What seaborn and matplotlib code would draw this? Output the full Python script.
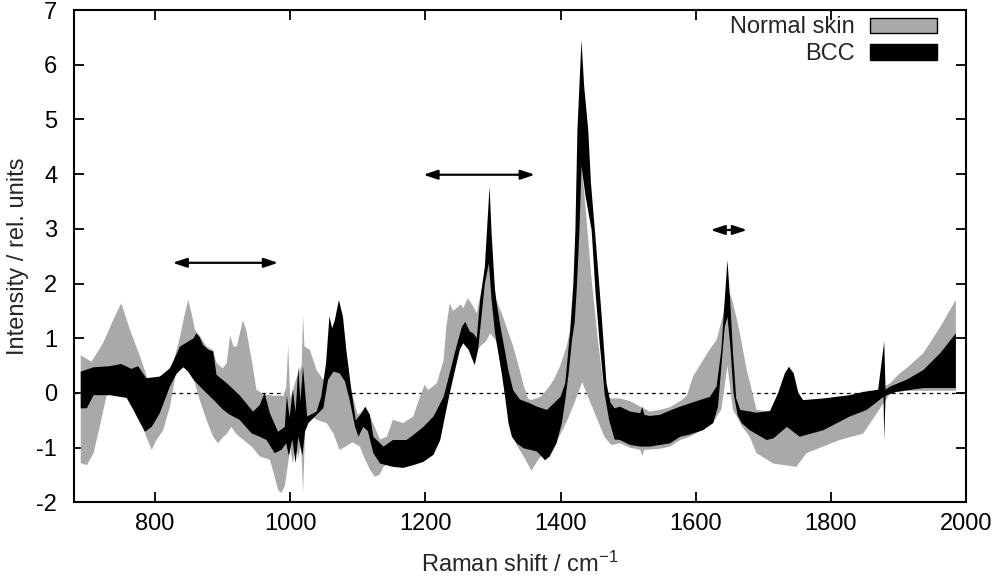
import numpy as np
import matplotlib
matplotlib.use("Agg")
import matplotlib.pyplot as plt
from matplotlib.patches import Patch
import seaborn as sns

# ---------------- data ----------------
# BCC band: upper edge
bcc_hi_x = [690, 709, 733, 750, 765, 775, 787, 807, 822, 837, 849, 857, 861, 866, 871, 879, 886, 891, 906, 925,
            935, 945, 955, 962, 970, 982, 992, 995, 999, 1004, 1008, 1012, 1015, 1019, 1025, 1039, 1046, 1053, 1058, 1062,
            1066, 1072, 1078, 1083, 1090, 1097, 1105, 1111, 1118, 1123, 1138, 1152, 1172, 1182, 1197, 1212, 1227, 1236, 1246, 1254,
            1259, 1266, 1271, 1276, 1281, 1288, 1295, 1298, 1303, 1306, 1312, 1318, 1323, 1330, 1340, 1355, 1365, 1380, 1390, 1400,
            1407, 1414, 1419, 1422, 1425, 1431, 1435, 1441, 1445, 1453, 1461, 1468, 1474, 1480, 1488, 1503, 1518, 1521, 1524, 1532,
            1547, 1562, 1577, 1591, 1606, 1621, 1631, 1638, 1643, 1647, 1651, 1655, 1660, 1666, 1690, 1710, 1722, 1732, 1738, 1745,
            1752, 1759, 1789, 1828, 1848, 1870, 1879, 1881, 1888, 1912, 1937, 1962, 1985]
bcc_hi = [0.39, 0.47, 0.49, 0.53, 0.44, 0.49, 0.27, 0.30, 0.45, 0.85, 0.94, 1.00, 1.09, 1.02, 0.88, 0.79, 0.76, 0.33, 0.18, -0.04,
          -0.19, -0.34, -0.22, 0.00, -0.37, -0.71, -0.62, -0.04, -0.45, 0.06, -0.35, 0.48, -0.15, 0.48, -0.43, -0.34, -0.06, 0.54, 1.40, 1.18,
          1.33, 1.70, 1.40, 0.79, 0.10, -0.50, -0.38, -0.25, -0.40, -0.80, -0.98, -0.86, -0.86, -0.77, -0.62, -0.43, -0.07, 0.36, 0.85, 1.21,
          1.30, 1.12, 1.09, 1.00, 1.70, 2.31, 3.77, 2.92, 1.88, 1.60, 1.15, 0.75, 0.40, 0.05, -0.12, -0.19, -0.25, -0.31, -0.19, -0.07,
          0.18, 1.10, 2.00, 2.98, 4.81, 6.45, 5.60, 4.81, 3.84, 2.65, 1.39, 0.18, -0.18, -0.28, -0.25, -0.34, -0.37, -0.25, -0.40, -0.42,
          -0.40, -0.32, -0.25, -0.19, -0.13, -0.07, 0.12, 0.79, 1.70, 2.43, 1.70, 0.79, -0.10, -0.31, -0.36, -0.33, 0.00, 0.36, 0.48, 0.36,
          0.00, -0.13, -0.10, -0.04, 0.02, 0.06, 0.94, 0.06, 0.12, 0.24, 0.42, 0.73, 1.09]

# BCC band: lower edge
bcc_lo_x = [690, 699, 709, 733, 758, 768, 778, 785, 795, 807, 822, 832, 842, 849, 857, 871, 886, 901, 911, 925,
            943, 955, 965, 977, 987, 994, 998, 1003, 1008, 1012, 1018, 1022, 1027, 1039, 1049, 1056, 1064, 1073, 1081, 1088,
            1096, 1101, 1108, 1115, 1123, 1133, 1152, 1167, 1182, 1197, 1212, 1222, 1229, 1236, 1244, 1251, 1256, 1264, 1268, 1273,
            1278, 1283, 1288, 1294, 1298, 1303, 1313, 1318, 1323, 1328, 1335, 1345, 1355, 1365, 1372, 1377, 1384, 1394, 1402, 1407,
            1412, 1417, 1421, 1424, 1428, 1431, 1437, 1446, 1452, 1458, 1465, 1472, 1480, 1488, 1503, 1518, 1532, 1547, 1562, 1577,
            1591, 1611, 1626, 1633, 1638, 1643, 1647, 1651, 1656, 1662, 1668, 1680, 1705, 1715, 1735, 1754, 1789, 1828, 1853, 1878,
            1879, 1881, 1897, 1937, 1985]
bcc_lo = [-0.28, -0.28, -0.04, -0.04, -0.09, -0.31, -0.55, -0.71, -0.62, -0.37, 0.12, 0.36, 0.47, 0.39, 0.24, 0.06, -0.12, -0.31, -0.40, -0.49,
          -0.74, -0.80, -0.86, -1.10, -1.04, -0.92, -1.15, -0.85, -1.28, -0.80, -1.15, -0.70, -0.55, -0.40, -0.28, 0.24, 0.39, 0.36, 0.21, -0.13,
          -0.62, -0.80, -0.62, -0.70, -1.10, -1.29, -1.35, -1.37, -1.32, -1.26, -1.13, -0.86, -0.43, -0.01, 0.42, 0.79, 0.91, 0.79, 0.66, 0.51,
          0.79, 1.39, 2.00, 2.37, 1.70, 1.10, 0.36, -0.07, -0.55, -0.80, -0.92, -1.01, -1.04, -1.07, -1.16, -1.23, -1.16, -0.92, -0.55, -0.13,
          0.36, 0.97, 1.30, 1.90, 2.98, 4.15, 3.60, 2.98, 1.80, 0.90, 0.00, -0.50, -0.85, -0.86, -0.95, -0.98, -0.98, -0.95, -0.92, -0.80,
          -0.76, -0.68, -0.55, -0.25, 0.48, 1.21, 1.39, 0.90, 0.00, -0.40, -0.55, -0.68, -0.86, -0.83, -0.62, -0.80, -0.68, -0.43, -0.31, -0.07,
          -0.86, -0.05, 0.02, 0.09, 0.09]

# Normal skin band: upper edge
normal_hi_x = [690, 706, 723, 738, 750, 763, 778, 790, 810, 827, 837, 843, 849, 854, 859, 866, 876, 886, 891, 900,
               906, 911, 916, 921, 930, 935, 943, 950, 960, 975, 990, 994, 997, 1000, 1005, 1010, 1017, 1019, 1021, 1029,
               1039, 1049, 1058, 1070, 1080, 1090, 1100, 1111, 1120, 1133, 1143, 1152, 1167, 1182, 1192, 1199, 1204, 1217, 1227, 1231,
               1236, 1241, 1246, 1252, 1256, 1263, 1270, 1276, 1285, 1295, 1300, 1305, 1315, 1330, 1340, 1345, 1352, 1357, 1370, 1380,
               1390, 1399, 1409, 1416, 1422, 1427, 1431, 1437, 1445, 1455, 1465, 1475, 1488, 1503, 1518, 1532, 1547, 1562, 1577, 1587,
               1596, 1606, 1621, 1631, 1640, 1647, 1653, 1660, 1666, 1675, 1683, 1690, 1720, 1760, 1800, 1840, 1870, 1888, 1902, 1912,
               1937, 1962, 1985]
normal_hi = [0.69, 0.57, 0.91, 1.33, 1.64, 1.15, 0.66, 0.22, 0.25, 0.55, 1.03, 1.39, 1.70, 1.46, 1.15, 1.05, 0.85, 0.78, 0.55, 0.45,
             0.54, 1.05, 0.85, 0.85, 1.33, 1.15, 0.60, 0.06, -0.02, -0.05, -0.05, 0.10, 0.88, -0.10, 0.10, 0.30, 0.50, 1.43, 0.85, 0.79,
             0.42, 0.24, 0.50, 1.00, 0.80, 0.05, -0.40, -0.28, -0.48, -0.85, -0.80, -0.49, -0.55, -0.43, -0.07, 0.15, 0.05, 0.18, 0.60, 1.21,
             1.64, 1.50, 1.55, 1.62, 1.55, 1.73, 1.60, 1.46, 2.00, 2.60, 2.20, 1.70, 1.39, 0.85, 0.40, 0.15, -0.10, -0.13, -0.07, 0.06,
             0.24, 0.48, 0.85, 1.25, 2.00, 3.20, 4.20, 3.40, 2.20, 1.00, 0.00, -0.10, -0.10, -0.15, -0.25, -0.34, -0.31, -0.26, -0.15, -0.05,
             0.30, 0.50, 0.80, 0.97, 1.40, 1.90, 1.75, 1.40, 1.05, 0.45, 0.05, -0.31, -0.35, -0.20, -0.12, -0.02, 0.05, 0.18, 0.36, 0.45,
             0.73, 1.21, 1.70]

# Normal skin band: lower edge
normal_lo_x = [690, 699, 709, 718, 728, 740, 760, 775, 787, 795, 802, 812, 822, 830, 842, 856, 866, 876, 886, 893,
               901, 906, 913, 920, 930, 943, 955, 970, 977, 982, 987, 992, 997, 1000, 1004, 1008, 1012, 1016, 1019, 1022,
               1029, 1039, 1054, 1064, 1073, 1082, 1092, 1103, 1111, 1118, 1125, 1132, 1138, 1150, 1170, 1190, 1210, 1222, 1229, 1236,
               1244, 1251, 1256, 1265, 1273, 1281, 1290, 1296, 1305, 1313, 1320, 1328, 1335, 1345, 1357, 1368, 1380, 1392, 1400, 1410,
               1420, 1432, 1445, 1455, 1465, 1475, 1488, 1503, 1518, 1521, 1524, 1547, 1562, 1577, 1591, 1606, 1625, 1638, 1647, 1655,
               1668, 1680, 1690, 1715, 1749, 1764, 1813, 1848, 1868, 1888, 1912, 1985]
normal_lo = [-1.28, -1.32, -1.10, -0.62, -0.06, 0.05, 0.00, -0.30, -0.80, -1.04, -0.86, -0.68, -0.25, 0.30, 0.50, 0.30, -0.12, -0.49, -0.80, -0.92,
             -0.80, -0.75, -0.62, -0.75, -0.85, -0.98, -1.16, -1.22, -1.53, -1.77, -1.83, -1.70, -1.28, -1.00, -1.30, -0.90, -1.20, -0.90, -1.83, -0.70,
             -0.40, -0.49, -0.55, -0.74, -1.04, -0.98, -0.90, -0.98, -1.22, -1.40, -1.53, -1.50, -1.35, -1.25, -1.25, -1.20, -1.05, -0.80, -0.35, 0.05,
             0.50, 0.85, 0.95, 0.80, 0.70, 0.85, 0.95, 1.09, 0.95, 0.40, -0.20, -0.70, -0.95, -1.15, -1.42, -1.20, -1.05, -0.95, -0.75, -0.50,
             -0.20, 0.20, -0.20, -0.50, -0.80, -0.95, -0.92, -1.00, -1.04, -1.15, -1.04, -1.02, -0.98, -0.86, -0.80, -0.70, -0.55, -0.30, 0.50, -0.30,
             -0.60, -0.80, -1.10, -1.29, -1.35, -1.10, -0.86, -0.74, -0.37, 0.00, 0.04, 0.04]

# double arrows: (start, end, height)
arrow_x0 = [826, 1197, 1622]
arrow_x1 = [982, 1362, 1676]
arrow_y = [2.38, 3.99, 2.98]

x_ticks = [800, 1000, 1200, 1400, 1600, 1800, 2000]
y_ticks = [-2, -1, 0, 1, 2, 3, 4, 5, 6, 7]
series_labels = ["Normal skin", "BCC"]
x_label = "Raman shift / cm$^{-1}$"
y_label = "Intensity / rel. units"

# ---------------- styling ----------------
sns.set_theme(style="ticks")
plt.rcParams["font.family"] = ["Liberation Sans", "DejaVu Sans"]
plt.rcParams["mathtext.fontset"] = "custom"
plt.rcParams["mathtext.rm"] = "Liberation Sans"
plt.rcParams["mathtext.it"] = "Liberation Sans"
plt.rcParams["axes.unicode_minus"] = False

GRAY = "#a9a9a9"
FS = 17

fig = plt.figure(figsize=(9.93, 5.76), dpi=100)
ax = fig.add_axes([0.0745, 0.1278, 0.8983, 0.8547])


def band(xh, yh, xl, yl, color, z):
    xs = np.concatenate([np.asarray(xh, float), np.asarray(xl, float)[::-1]])
    ys = np.concatenate([np.asarray(yh, float), np.asarray(yl, float)[::-1]])
    ax.fill(xs, ys, facecolor=color, edgecolor="none", linewidth=0, zorder=z)


ax.axhline(0, color="black", lw=0.9, ls=(0, (3, 3)), zorder=1)
band(normal_hi_x, normal_hi, normal_lo_x, normal_lo, GRAY, 2)
band(bcc_hi_x, bcc_hi, bcc_lo_x, bcc_lo, "black", 3)

for x0, x1, y in zip(arrow_x0, arrow_x1, arrow_y):
    ax.annotate("", xy=(x1, y), xytext=(x0, y), zorder=5,
                arrowprops=dict(arrowstyle="<|-|>,head_length=0.6,head_width=0.2",
                                color="black", lw=1.6, shrinkA=0, shrinkB=0,
                                mutation_scale=14))

ax.set_xlim(680, 2000)
ax.set_ylim(-2, 7)
ax.set_xticks(x_ticks)
ax.set_yticks(y_ticks)
ax.set_xticklabels([str(v) for v in x_ticks])
ax.set_yticklabels([str(v) for v in y_ticks])
ax.tick_params(axis="both", direction="in", length=7, width=1.3, colors="black",
               top=True, right=True, labelsize=FS)
ax.tick_params(axis="x", pad=8)
ax.tick_params(axis="y", pad=12)
for s in ax.spines.values():
    s.set_linewidth(1.5)
    s.set_color("black")

ax.set_xlabel(x_label, fontsize=FS, labelpad=12)
ax.set_ylabel(y_label, fontsize=FS, labelpad=5)

handles = [Patch(facecolor=GRAY, edgecolor="black", linewidth=1.0),
           Patch(facecolor="black", edgecolor="black", linewidth=1.0)]
ax.legend(handles, series_labels, loc="upper right", bbox_to_anchor=(0.968, 0.987),
          frameon=False, markerfirst=False, fontsize=FS, handlelength=2.85,
          handleheight=0.62, handletextpad=0.65, labelspacing=0.2,
          borderaxespad=0, borderpad=0)

fig.savefig("out.png", dpi=100)
